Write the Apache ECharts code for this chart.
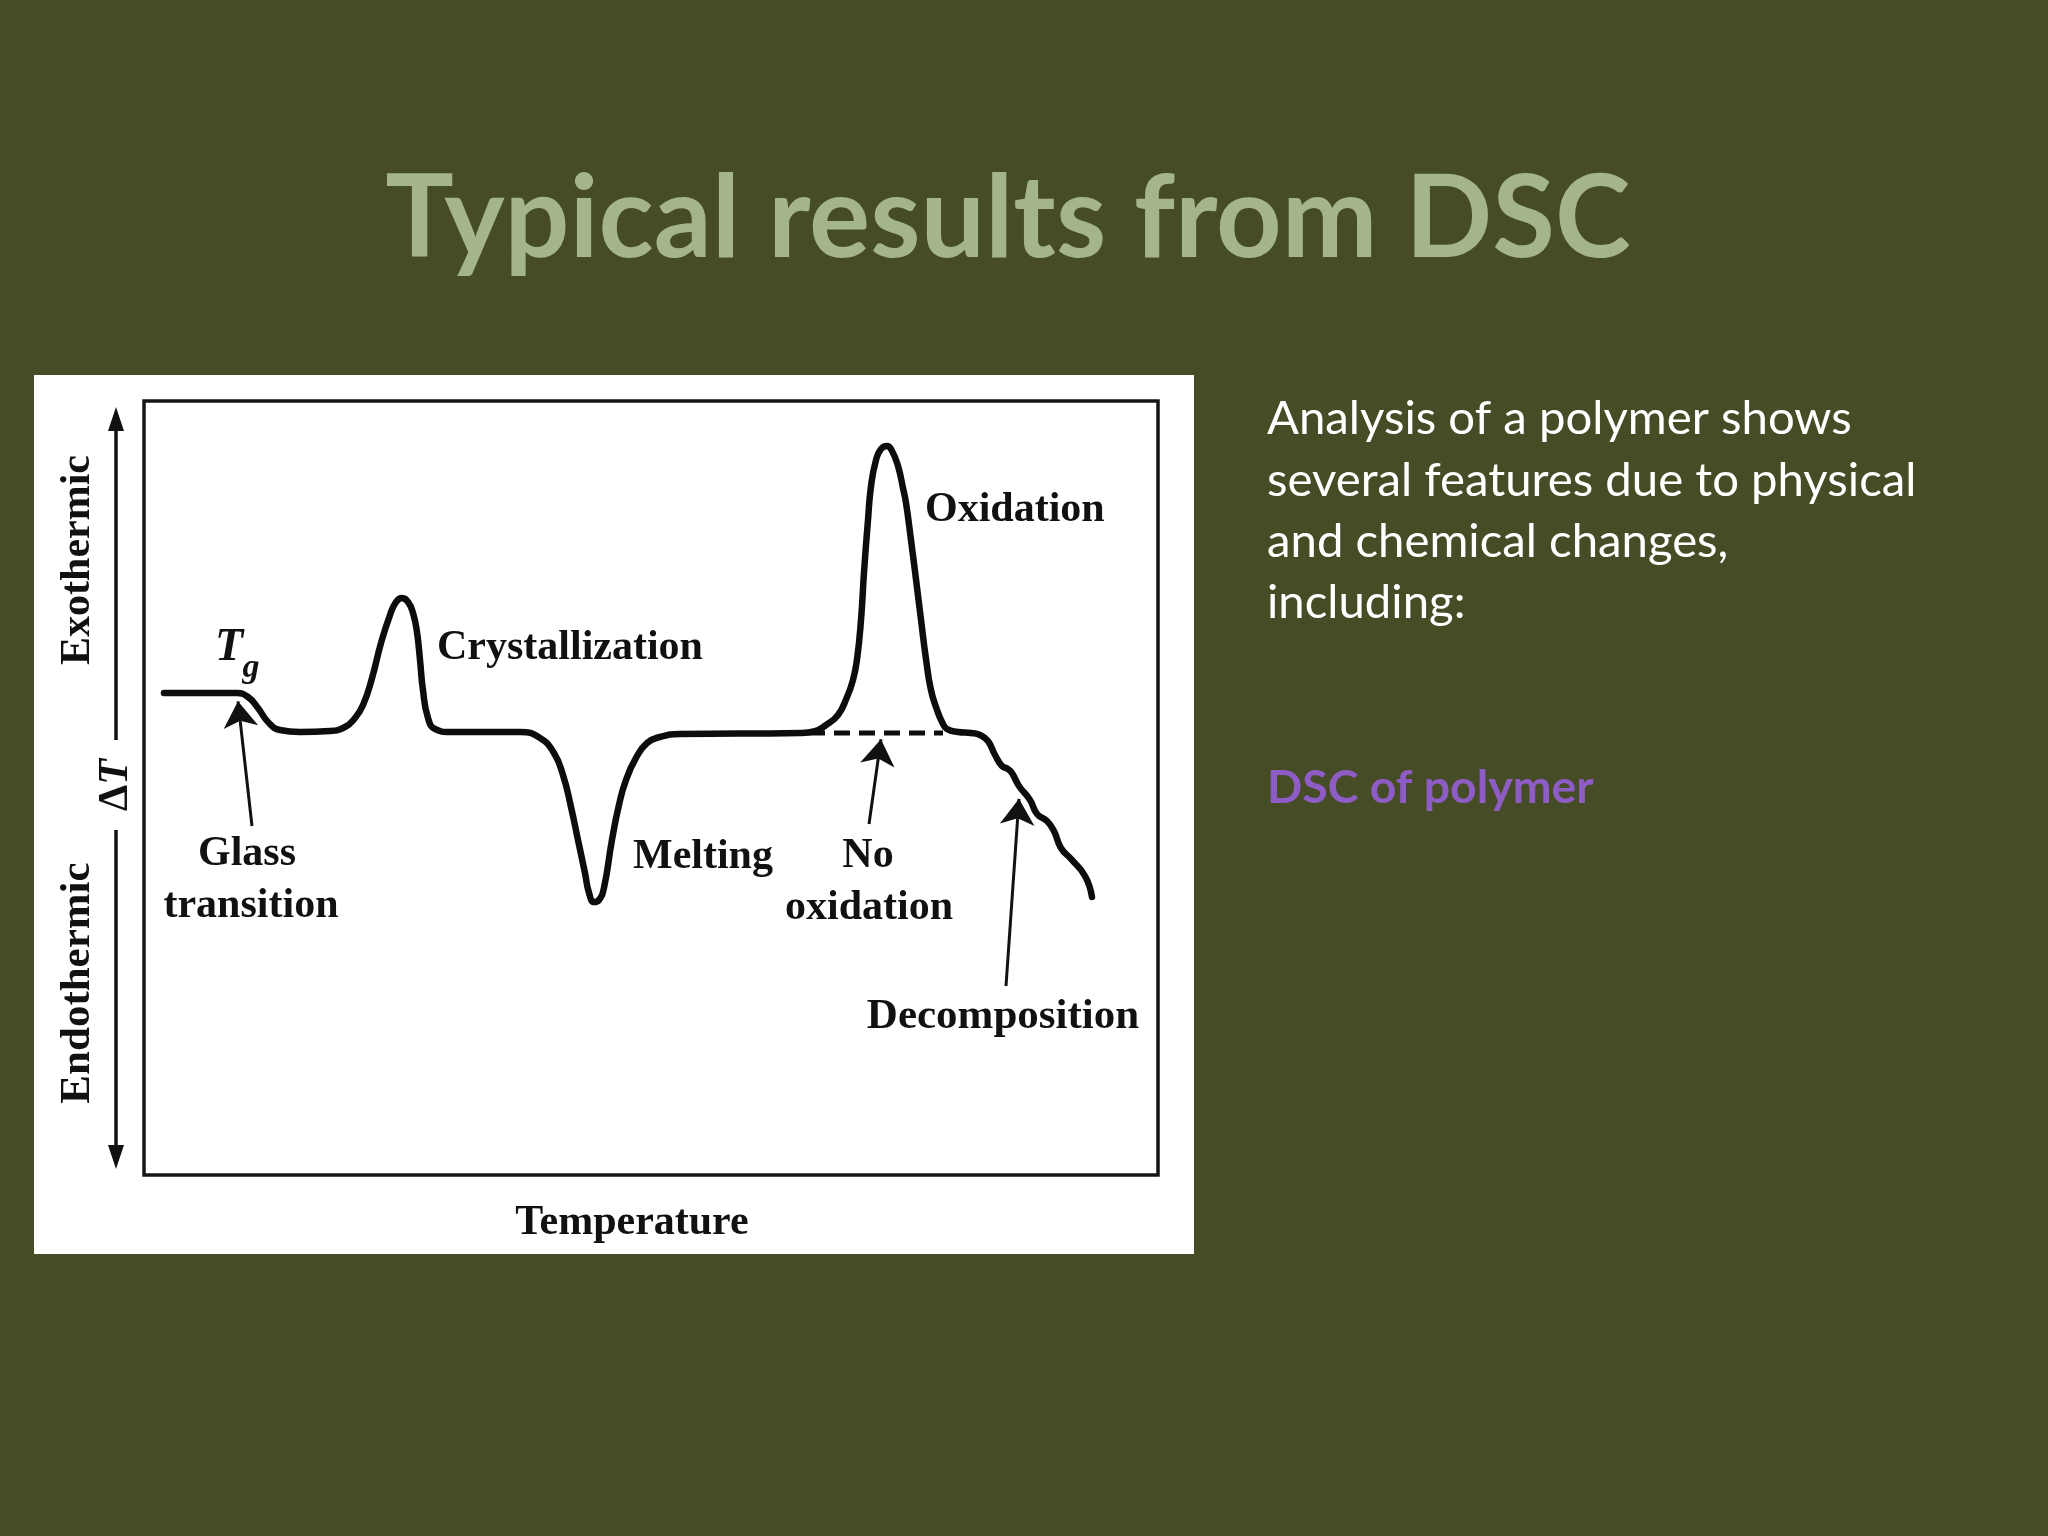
<!DOCTYPE html>
<html>
<head>
<meta charset="utf-8">
<script src="https://cdn.jsdelivr.net/npm/echarts/dist/echarts.min.js"></script>
<style>
  html, body { margin: 0; padding: 0; background: #464C26; }
  #panel { position: absolute; left: 34px; top: 375px; width: 1160px; height: 879px; background: #ffffff; }
  #chart { position: absolute; left: 0; top: 0; width: 2048px; height: 1536px; }
</style>
</head>
<body>
<div id="panel"></div>
<div id="chart"></div>
<script>
// ---- data (arbitrary units: temperature 0-100, deltaT 0-100) ----
const tempX = [1.97, 9.17, 10.26, 11.24, 12.23, 13.41, 15.38, 18.34, 19.82, 20.81, 21.60, 22.49, 23.37, 24.26, 24.85, 25.44, 26.04, 26.53, 26.92, 27.22, 27.51, 28.01, 28.70, 30.18, 37.08, 39.05, 40.43, 41.32, 42.11, 42.80, 43.49, 43.89, 44.38, 44.87, 45.36, 46.15, 46.84, 47.53, 48.52, 49.61, 50.89, 52.86, 64.69, 66.17, 67.26, 68.44, 69.33, 69.92, 70.32, 70.71, 71.01, 71.40, 71.70, 72.19, 72.68, 73.27, 73.77, 74.36, 74.85, 75.15, 75.64, 76.13, 76.63, 77.12, 77.61, 78.21, 78.70, 79.19, 80.28, 81.56, 82.45, 83.23, 83.93, 84.62, 85.21, 85.60, 86.29, 87.38, 88.07, 89.05, 89.74, 90.43, 91.42, 92.80, 93.49];
const deltaT = [62.27, 62.27, 61.76, 60.34, 58.53, 57.49, 57.24, 57.36, 57.88, 59.04, 60.72, 64.21, 68.73, 72.35, 74.03, 74.55, 74.03, 72.61, 70.15, 66.54, 62.66, 59.04, 57.62, 57.24, 57.24, 56.46, 54.52, 51.68, 47.55, 43.28, 39.02, 36.43, 35.27, 35.53, 37.08, 43.28, 47.80, 51.03, 53.88, 55.81, 56.59, 56.98, 57.11, 57.36, 58.14, 59.43, 61.76, 63.95, 66.67, 71.71, 77.91, 84.63, 89.02, 92.38, 93.80, 94.19, 93.54, 91.60, 88.76, 86.82, 82.04, 77.00, 71.71, 66.67, 62.66, 60.08, 58.53, 57.62, 57.24, 57.11, 56.85, 56.07, 54.26, 52.84, 52.45, 51.94, 50.26, 48.45, 46.64, 45.74, 44.44, 42.25, 40.83, 38.63, 35.92];
// dashed "no oxidation" baseline
const baselineX = [65.58, 78.80];
const baselineY = [57.11, 57.11];
// annotation arrows: [fromX, fromY] -> [toX, toY]
const arrowNames = ['Glass transition', 'No oxidation', 'Decomposition'];
const arrowFrom = [[10.65, 45.09], [71.50, 45.35], [85.01, 24.42]];
const arrowTo   = [[9.27, 61.20], [72.68, 56.30], [86.29, 48.60]];
// texts
const titleText = 'Typical results from DSC';
const bodyLines = ['Analysis of a polymer shows', 'several features due to physical', 'and chemical changes,', 'including:'];
const captionText = 'DSC of polymer';

// ---- helpers ----
const mctx = document.createElement('canvas').getContext('2d');
function fitSize(text, weight, family, target) {
  mctx.font = weight + ' 100px ' + family;
  return 100 * target / mctx.measureText(text).width;
}
const SLIDE_FONT = 'Lato';
const SERIF = '"Liberation Serif", "DejaVu Serif", serif';
const titleSize = fitSize(titleText, 'bold', SLIDE_FONT, 1245);
const bodySize = fitSize(bodyLines[1], 'normal', SLIDE_FONT, 650);
const capSize = fitSize(captionText, 'bold', SLIDE_FONT, 327);

const curve = tempX.map((x, i) => [x, deltaT[i]]);
const dashed = baselineX.map((x, i) => [x, baselineY[i]]);

const graphics = [];
// title
graphics.push({ type: 'text', x: 1008, y: 264 - 0.387 * titleSize, style: { text: titleText, fill: '#A4B48C', font: 'bold ' + titleSize.toFixed(1) + 'px ' + SLIDE_FONT, textAlign: 'center', textVerticalAlign: 'middle' } });
// body lines
const bodyBase = [437, 499, 560, 621];
bodyLines.forEach((t, i) => {
  graphics.push({ type: 'text', x: 1267, y: bodyBase[i] - 0.387 * bodySize, style: { text: t, fill: '#ffffff', font: bodySize.toFixed(1) + 'px ' + SLIDE_FONT, textAlign: 'left', textVerticalAlign: 'middle' } });
});
graphics.push({ type: 'text', x: 1267, y: 806 - 0.387 * capSize, style: { text: captionText, fill: '#8E5CC5', font: 'bold ' + capSize.toFixed(1) + 'px ' + SLIDE_FONT, textAlign: 'left', textVerticalAlign: 'middle' } });

// chart annotation labels (serif bold)
function lab(text, x, y, align, size, style) {
  graphics.push({ type: 'text', x: x, y: y, style: { text: text, fill: '#111111', font: (style || '') + ' bold ' + (size || 42) + 'px ' + SERIF, textAlign: align || 'center', textVerticalAlign: 'middle' } });
}
lab('Crystallization', 437, 648, 'left');
lab('Oxidation', 925, 510, 'left');
lab('Glass', 247, 854);
lab('transition', 251, 906);
lab('Melting', 633, 857, 'left');
lab('No', 868, 856);
lab('oxidation', 869, 908);
lab('Decomposition', 1003, 1017, 'center', 43);
lab('Temperature', 632, 1223);
lab('T', 229, 648, 'center', 46, 'italic');
lab('g', 251, 668, 'center', 34, 'italic');

// rotated side labels
function rlab(text, x, y, size, style) {
  graphics.push({ type: 'text', x: x, y: y, rotation: Math.PI / 2, style: { text: text, fill: '#111111', font: (style || '') + ' bold ' + (size || 42) + 'px ' + SERIF, textAlign: 'center', textVerticalAlign: 'middle' } });
}
rlab('Exothermic', 78, 560);
rlab('Endothermic', 78, 983, 43);
graphics.push({ type: 'text', x: 116, y: 785, rotation: Math.PI / 2, style: { rich: { d: { font: 'bold 42px ' + SERIF, fill: '#111' }, t: { font: 'italic bold 42px ' + SERIF, fill: '#111' } }, text: '{d|Δ}{t|T}', textAlign: 'center', textVerticalAlign: 'middle' } });
// side double arrow (decoration)
graphics.push({ type: 'line', shape: { x1: 116, y1: 425, x2: 116, y2: 740 }, style: { stroke: '#111', lineWidth: 3.5 } });
graphics.push({ type: 'line', shape: { x1: 116, y1: 830, x2: 116, y2: 1150 }, style: { stroke: '#111', lineWidth: 3.5 } });
graphics.push({ type: 'polygon', shape: { points: [[116, 407], [108, 431], [124, 431]] }, style: { fill: '#111' } });
graphics.push({ type: 'polygon', shape: { points: [[116, 1169], [108, 1145], [124, 1145]] }, style: { fill: '#111' } });

const chart = echarts.init(document.getElementById('chart'), null, { renderer: 'canvas', width: 2048, height: 1536 });
chart.setOption({
  backgroundColor: 'transparent',
  animation: false,
  grid: { left: 144, top: 401, width: 1014, height: 774, show: true, borderColor: '#151515', borderWidth: 3.5, backgroundColor: 'transparent', containLabel: false },
  xAxis: { type: 'value', min: 0, max: 100, show: false },
  yAxis: { type: 'value', min: 0, max: 100, show: false },
  graphic: { elements: graphics },
  series: [
    { name: 'DSC curve', type: 'line', data: curve, showSymbol: false, symbol: 'none', smooth: 0.5, lineStyle: { color: '#0d0d0d', width: 6.5, cap: 'round', join: 'round' }, z: 3 },
    { name: 'No oxidation baseline', type: 'line', data: dashed, showSymbol: false, symbol: 'none', lineStyle: { color: '#0d0d0d', width: 5, type: [16, 9] }, z: 3 },
    { name: 'Arrows', type: 'lines', coordinateSystem: 'cartesian2d', symbol: ['none', 'arrow'], symbolSize: [13, 26], lineStyle: { color: '#111', width: 3, opacity: 1 }, z: 4,
      data: arrowNames.map((n, i) => ({ name: n, coords: [arrowFrom[i], arrowTo[i]] })) }
  ]
});
</script>
</body>
</html>
